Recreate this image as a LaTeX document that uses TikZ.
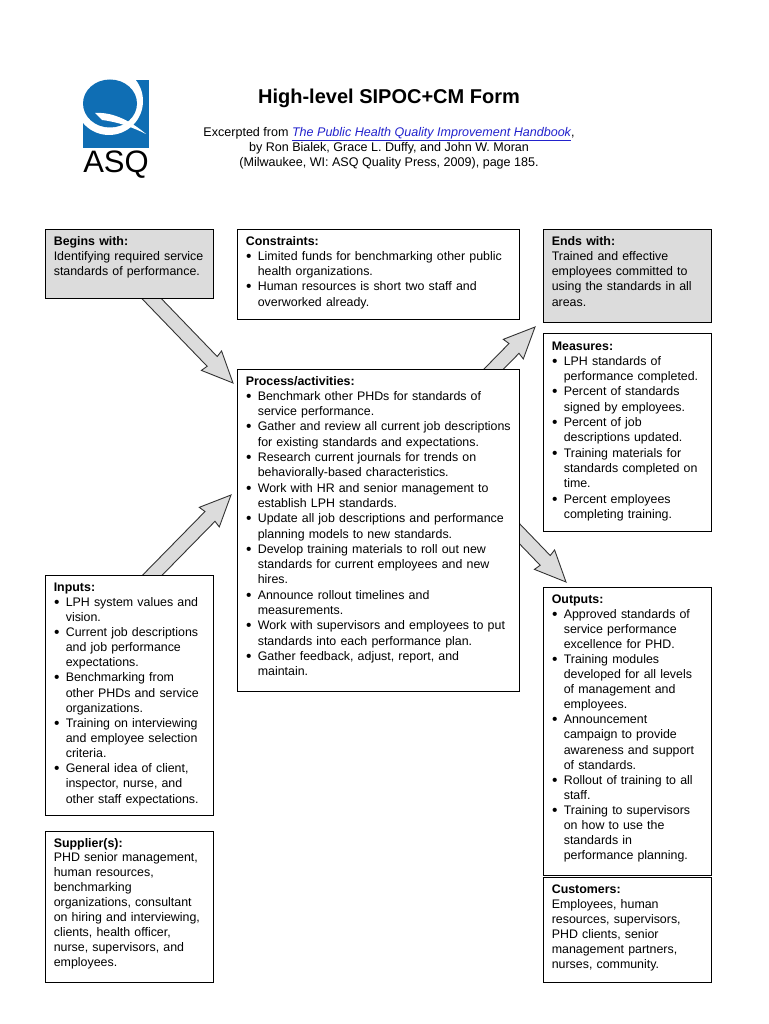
\documentclass[tikz,border=0pt]{standalone}
\usepackage{fontspec}
\setmainfont{Liberation Sans}
\usetikzlibrary{calc,backgrounds}
\definecolor{boxgray}{HTML}{DCDCDC}
\definecolor{asqblue}{HTML}{0F6EB4}
\definecolor{linkblue}{HTML}{2222CC}
\tikzset{every node/.style={font=\fontsize{12.4}{15.3}\selectfont},
 leading/.style={font=\fontsize{12.4}{#1}\selectfont},
 infobox/.style={draw,thick,fill=white,anchor=north west,align=left,outer sep=0pt,inner xsep=8.8pt,inner ysep=6pt,text height=10pt,text width=150.6pt},
 widebox/.style={infobox,text width=264.6pt},
 graybox/.style={infobox,fill=boxgray},
 blockarrow/.style={draw=black!80,fill=boxgray,line width=.9pt,line join=miter}}
\newcommand{\hd}[1]{\textbf{#1}\\}
\newcommand{\bl}[1]{\mbox{\makebox[12pt][l]{\hspace{.3pt}\raisebox{-1pt}{\fontsize{15.5}{15}\selectfont\textbullet}}#1}\\}
\newcommand{\ct}[1]{\mbox{\hspace*{12pt}#1}\\}
% from (#1) to tip (#2)
\newcommand{\blockarrow}[2]{\draw[blockarrow] ($(#1)!7pt!90:(#2)$)--($(#2)!30pt!(#1)!7pt!-90:(#1)$)--($(#2)!31pt!(#1)!14pt!-90:(#1)$)--(#2)--($(#2)!31pt!(#1)!14pt!90:(#1)$)--($(#2)!30pt!(#1)!7pt!90:(#1)$)--($(#1)!7pt!-90:(#2)$)--cycle;}
\begin{document}
\begin{tikzpicture}[x=1pt,y=-1pt]
\useasboundingbox (0,0) rectangle (768,1024);
% logo
\begin{scope}
\clip (83,80) rectangle (149,148);
\fill[asqblue] (83,80) rectangle (149,148);
\fill[white] (109,101) circle(34);
\fill[asqblue] (110,103.5) ellipse(27 and 24);
\fill[white] (95,113)..controls (110,112) and (127,118) .. (146,134)..controls (132,127) and (118,122) .. (102,120)--cycle;
\end{scope}
\node[font=\fontsize{31}{31}\selectfont,inner sep=0] (asq) at (116,164.5) {ASQ};
% heading
\node[font=\fontsize{20}{24}\bfseries\selectfont,inner sep=0] (title) at (389,98.5) {High-level SIPOC+CM Form};
\node[align=center,font=\fontsize{12.55}{15}\selectfont,inner sep=0,below=0pt] (source) at (389,127) {Excerpted from {\color{linkblue}\itshape\underline{The Public Health Quality Improvement Handbook}},\\by Ron Bialek, Grace L. Duffy, and John W. Moran\\(Milwaukee, WI: ASQ Quality Press, 2009), page 185.};
% boxes
\node[graybox,text depth=47pt] (begins) at (45,229) {\hd{Begins with:}Identifying required service\\standards of performance.};
\node[widebox,text depth=68pt] (constraints) at (237,229) {\hd{Constraints:}\bl{Limited funds for benchmarking other public}\ct{health organizations.}\bl{Human resources is short two staff and}\ct{overworked already.}};
\node[graybox,text depth=71pt] (ends) at (543,229) {\hd{Ends with:}Trained and effective\\employees committed to\\using the standards in all\\areas.};
\node[infobox,inner ysep=7pt,text depth=174pt] (measures) at (543,333) {\hd{Measures:}\bl{LPH standards of}\ct{performance completed.}\bl{Percent of standards}\ct{signed by employees.}\bl{Percent of job}\ct{descriptions updated.}\bl{Training materials for}\ct{standards completed on}\ct{time.}\bl{Percent employees}\ct{completing training.}};
\node[widebox,text depth=300pt] (process) at (237,369) {\hd{Process/activities:}\bl{Benchmark other PHDs for standards of}\ct{service performance.}\bl{Gather and review all current job descriptions}\ct{for existing standards and expectations.}\bl{Research current journals for trends on}\ct{behaviorally-based characteristics.}\bl{Work with HR and senior management to}\ct{establish LPH standards.}\bl{Update all job descriptions and performance}\ct{planning models to new standards.}\bl{Develop training materials to roll out new}\ct{standards for current employees and new}\ct{hires.}\bl{Announce rollout timelines and}\ct{measurements.}\bl{Work with supervisors and employees to put}\ct{standards into each performance plan.}\bl{Gather feedback, adjust, report, and}\ct{maintain.}};
\node[infobox,leading=15.15,text depth=218pt] (inputs) at (45,575) {\hd{Inputs:}\bl{LPH system values and}\ct{vision.}\bl{Current job descriptions}\ct{and job performance}\ct{expectations.}\bl{Benchmarking from}\ct{other PHDs and service}\ct{organizations.}\bl{Training on interviewing}\ct{and employee selection}\ct{criteria.}\bl{General idea of client,}\ct{inspector, nurse, and}\ct{other staff expectations.}};
\node[infobox,leading=14.9,text depth=129pt] (suppliers) at (45,831) {\hd{Supplier(s):}PHD senior management,\\human resources,\\benchmarking\\organizations, consultant\\on hiring and interviewing,\\clients, health officer,\\nurse, supervisors, and\\employees.};
\node[infobox,leading=15.1,text depth=266pt] (outputs) at (543,587) {\hd{Outputs:}\bl{Approved standards of}\ct{service performance}\ct{excellence for PHD.}\bl{Training modules}\ct{developed for all levels}\ct{of management and}\ct{employees.}\bl{Announcement}\ct{campaign to provide}\ct{awareness and support}\ct{of standards.}\bl{Rollout of training to all}\ct{staff.}\bl{Training to supervisors}\ct{on how to use the}\ct{standards in}\ct{performance planning.}};
\node[infobox,leading=15,text depth=83pt] (customers) at (543,877) {\hd{Customers:}Employees, human\\resources, supervisors,\\PHD clients, senior\\management partners,\\nurses, community.};
% arrows go under the boxes
\coordinate (tipA) at (233,383);
\coordinate (tipB) at (535,327);
\coordinate (tipC) at (231,495);
\coordinate (tipD) at (566,582);
\begin{pgfonlayer}{background}
\blockarrow{$(begins.south west)+(96.4,-10)$}{tipA}
\blockarrow{$(process.north west)+(247,10)$}{tipB}
\blockarrow{$(inputs.north west)+(97.7,10)$}{tipC}
\blockarrow{$(process.north east)+(-10,154)$}{tipD}
\end{pgfonlayer}
\end{tikzpicture}
\end{document}
